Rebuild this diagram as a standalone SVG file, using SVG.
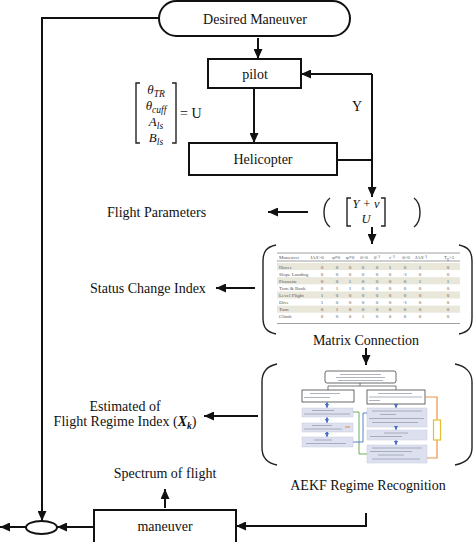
<svg xmlns="http://www.w3.org/2000/svg" width="474" height="542" viewBox="0 0 474 542">
<defs>
<marker id="ah" markerUnits="userSpaceOnUse" markerWidth="10" markerHeight="9" refX="10" refY="4.5" orient="auto">
<path d="M0,0 L10,4.5 L0,9 z" fill="#111"/>
</marker>
<marker id="bh" markerUnits="userSpaceOnUse" markerWidth="5" markerHeight="5" refX="4" refY="2.5" orient="auto">
<path d="M0,0 L4,2.5 L0,5 z" fill="#4a72c4"/>
</marker>
<style>
.t{font-family:"Liberation Serif","Times New Roman",serif;font-size:14px;fill:#111}
.m{font-family:"Liberation Serif","Times New Roman",serif;font-style:italic;fill:#111}
.box{fill:#fff;stroke:#111;stroke-width:2}
.ln{fill:none;stroke:#111;stroke-width:2}
.ar{fill:none;stroke:#111;stroke-width:2;marker-end:url(#ah)}
.br{fill:none;stroke:#222;stroke-width:1.4}
.tb{font-family:"Liberation Serif","Times New Roman",serif;font-size:5px;fill:#555}
.sh{fill:#e9e6da}
.ab{fill:#dde1ef;stroke:#c5cbe0;stroke-width:0.5}
.aw{fill:#fff;stroke:#444;stroke-width:0.8}
.tx{stroke:#9a9fb0;stroke-width:0.8}
</style>
</defs>

<g id="connectors">
<line class="ar" x1="258" y1="38" x2="258" y2="59"/>
<line class="ar" x1="254" y1="88" x2="254" y2="143"/>
<polyline class="ln" points="337,160 372,160"/>
<line class="ar" x1="372" y1="74" x2="372" y2="197"/>
<polyline class="ar" points="372,74 301,74"/>
<polyline class="ar" points="159,18 42,18 42,521"/>
<line class="ar" x1="308" y1="212" x2="268" y2="212"/>
<line class="ar" x1="372" y1="227" x2="372" y2="244"/>
<line class="ar" x1="255" y1="288" x2="216" y2="288"/>
<line class="ar" x1="366" y1="348" x2="366" y2="365"/>
<line class="ar" x1="258" y1="416" x2="204" y2="416"/>
<line class="ar" x1="165" y1="508" x2="165" y2="489"/>
<polyline class="ar" points="366,513 366,526 236,526"/>
<line class="ar" x1="94" y1="527" x2="57" y2="527"/>
<line class="ar" x1="26" y1="527" x2="0" y2="527"/>
</g>

<g id="desired-maneuver">
<rect class="box" x="159" y="1" width="191" height="35" rx="17.5"/>
<text class="t" x="255" y="24" text-anchor="middle">Desired Maneuver</text>
</g>

<g id="pilot">
<rect class="box" x="208" y="59" width="93" height="29"/>
<text class="t" x="255" y="79" text-anchor="middle">pilot</text>
</g>

<g id="helicopter">
<rect class="box" x="189" y="143" width="148" height="32"/>
<text class="t" x="263" y="164" text-anchor="middle">Helicopter</text>
</g>

<g id="control-vector">
<path class="br" d="M140,83 H136 V143 H140"/>
<path class="br" d="M172,83 H176 V143 H172"/>
<text class="m" font-size="13" x="156" y="94" text-anchor="middle">θ<tspan font-size="9.5" dy="3">TR</tspan></text>
<text class="m" font-size="13" x="156" y="110" text-anchor="middle">θ<tspan font-size="9.5" dy="3">cuff</tspan></text>
<text class="m" font-size="13" x="156" y="126" text-anchor="middle">A<tspan font-size="9.5" dy="3">ls</tspan></text>
<text class="m" font-size="13" x="156" y="142" text-anchor="middle">B<tspan font-size="9.5" dy="3">ls</tspan></text>
<text class="t" x="180" y="118">= U</text>
</g>

<g id="y-label">
<text class="t" x="357" y="111" text-anchor="middle">Y</text>
</g>

<g id="measurement">
<path class="br" d="M330,198 C322,204 322,221 330,227"/>
<path class="br" d="M414,198 C422,204 422,221 414,227"/>
<path class="br" d="M351,198 H347 V226 H351"/>
<path class="br" d="M381,198 H385 V226 H381"/>
<text class="m" font-size="12.5" x="366" y="208" text-anchor="middle">Y + v</text>
<text class="m" font-size="12.5" x="366" y="223" text-anchor="middle">U</text>
</g>

<g id="flight-parameters">
<text class="t" x="107" y="217">Flight Parameters</text>
</g>

<g id="status-change-index">
<text class="t" x="90" y="293">Status Change Index</text>
</g>

<g id="matrix-connection">
<path class="br" d="M276,245 C267,247 263,251 263,261 V318 C263,328 267,332 276,334"/>
<path class="br" d="M459,245 C468,247 472,251 472,261 V318 C472,328 468,332 459,334"/>
<line x1="277" y1="253" x2="460" y2="253" stroke="#888" stroke-width="0.8"/>
<line x1="277" y1="261" x2="460" y2="261" stroke="#888" stroke-width="0.8"/>
<line x1="277" y1="323.5" x2="460" y2="323.5" stroke="#888" stroke-width="0.8"/>
<rect class="sh" x="277" y="263" width="183" height="7.1"/>
<rect class="sh" x="277" y="277.2" width="183" height="7.1"/>
<rect class="sh" x="277" y="291.4" width="183" height="7.1"/>
<rect class="sh" x="277" y="305.6" width="183" height="7.1"/>
<g class="tb">
<text x="279" y="258.5">Maneuver</text>
<text x="317" y="258.5" text-anchor="middle">JAS&gt;0</text>
<text x="336" y="258.5" text-anchor="middle">φ≠0</text>
<text x="350" y="258.5" text-anchor="middle">ψ≠0</text>
<text x="364" y="258.5" text-anchor="middle">θ&gt;0</text>
<text x="377" y="258.5" text-anchor="middle">θ⁻¹</text>
<text x="392" y="258.5" text-anchor="middle">ν⁻¹</text>
<text x="406" y="258.5" text-anchor="middle">θ&lt;0</text>
<text x="421" y="258.5" text-anchor="middle">JAS⁻¹</text>
<text x="449" y="258.5" text-anchor="middle">T<tspan font-size="3.5" dy="1">g</tspan><tspan dy="-1">&gt;3</tspan></text>
</g>
<g class="tb">
<text x="279" y="268.5">Hover</text>
<text x="279" y="275.6">Slope Landing</text>
<text x="279" y="282.7">Pirouette</text>
<text x="279" y="289.8">Turn &amp; Bank</text>
<text x="279" y="296.9">Level Flight</text>
<text x="279" y="304">Dive</text>
<text x="279" y="311.1">Turn</text>
<text x="279" y="318.2">Climb</text>
</g>
<g class="tb" text-anchor="middle">
<text y="268.5"><tspan x="322">0</tspan><tspan x="337">0</tspan><tspan x="350">0</tspan><tspan x="363">0</tspan><tspan x="377">0</tspan><tspan x="390">1</tspan><tspan x="405">0</tspan><tspan x="420">1</tspan><tspan x="448">0</tspan></text>
<text y="275.6"><tspan x="322">0</tspan><tspan x="337">0</tspan><tspan x="350">0</tspan><tspan x="363">0</tspan><tspan x="377">0</tspan><tspan x="390">0</tspan><tspan x="405">-1</tspan><tspan x="420">0</tspan><tspan x="448">0</tspan></text>
<text y="282.7"><tspan x="322">0</tspan><tspan x="337">0</tspan><tspan x="350">1</tspan><tspan x="363">0</tspan><tspan x="377">0</tspan><tspan x="390">0</tspan><tspan x="405">0</tspan><tspan x="420">1</tspan><tspan x="448">1</tspan></text>
<text y="289.8"><tspan x="322">0</tspan><tspan x="337">1</tspan><tspan x="350">1</tspan><tspan x="363">0</tspan><tspan x="377">0</tspan><tspan x="390">0</tspan><tspan x="405">0</tspan><tspan x="420">0</tspan><tspan x="448">0</tspan></text>
<text y="296.9"><tspan x="322">1</tspan><tspan x="337">0</tspan><tspan x="350">0</tspan><tspan x="363">0</tspan><tspan x="377">0</tspan><tspan x="390">0</tspan><tspan x="405">0</tspan><tspan x="420">0</tspan><tspan x="448">0</tspan></text>
<text y="304"><tspan x="322">1</tspan><tspan x="337">0</tspan><tspan x="350">0</tspan><tspan x="363">0</tspan><tspan x="377">0</tspan><tspan x="390">0</tspan><tspan x="405">-1</tspan><tspan x="420">0</tspan><tspan x="448">0</tspan></text>
<text y="311.1"><tspan x="322">0</tspan><tspan x="337">1</tspan><tspan x="350">0</tspan><tspan x="363">0</tspan><tspan x="377">0</tspan><tspan x="390">0</tspan><tspan x="405">0</tspan><tspan x="420">0</tspan><tspan x="448">0</tspan></text>
<text y="318.2"><tspan x="322">0</tspan><tspan x="337">0</tspan><tspan x="350">0</tspan><tspan x="363">1</tspan><tspan x="377">0</tspan><tspan x="390">0</tspan><tspan x="405">0</tspan><tspan x="420">0</tspan><tspan x="448">0</tspan></text>
</g>
<text class="t" x="366" y="345" text-anchor="middle">Matrix Connection</text>
</g>

<g id="estimated-index">
<text class="t" x="125" y="411" text-anchor="middle">Estimated of</text>
<text class="t" x="125" y="426" text-anchor="middle">Flight Regime Index (<tspan font-weight="bold" font-style="italic">X<tspan font-size="9.5" dy="3">k</tspan></tspan><tspan dy="-3">)</tspan></text>
</g>

<g id="aekf">
<path class="br" d="M277,364 C267,366 262,372 262,382 V448 C262,458 267,463 277,465"/>
<path class="br" d="M455,364 C465,366 472,372 472,382 V448 C472,458 465,463 455,465"/>
<rect class="aw" x="325" y="371" width="71" height="12" rx="2"/>
<line class="tx" x1="340" y1="374.5" x2="381" y2="374.5"/>
<line class="tx" x1="336" y1="377.5" x2="385" y2="377.5"/>
<line class="tx" x1="338" y1="380.5" x2="383" y2="380.5"/>
<polyline points="360,383 360,386 328,386 328,390" fill="none" stroke="#444" stroke-width="0.7"/>
<polyline points="360,386 396,386 396,390" fill="none" stroke="#444" stroke-width="0.7"/>
<rect class="aw" x="302" y="390" width="52" height="12"/>
<line class="tx" x1="310" y1="393.5" x2="340" y2="393.5"/>
<line class="tx" x1="304" y1="397.5" x2="330" y2="397.5"/>
<rect class="aw" x="367" y="390" width="58" height="14"/>
<line class="tx" x1="378" y1="393.5" x2="412" y2="393.5"/>
<line class="tx" x1="369" y1="397" x2="422" y2="397"/>
<line class="tx" x1="369" y1="400.5" x2="380" y2="400.5"/>
<rect class="ab" x="302" y="408" width="51" height="9"/>
<line class="tx" x1="312" y1="410.5" x2="334" y2="410.5"/>
<line class="tx" x1="304" y1="414" x2="350" y2="414"/>
<rect class="ab" x="302" y="423" width="51" height="9"/>
<line class="tx" x1="312" y1="425.5" x2="332" y2="425.5"/>
<line class="tx" x1="304" y1="429" x2="342" y2="429"/>
<rect class="ab" x="302" y="437" width="51" height="10"/>
<line class="tx" x1="314" y1="440" x2="332" y2="440"/>
<line class="tx" x1="306" y1="443.5" x2="346" y2="443.5"/>
<rect class="ab" x="367" y="408" width="60" height="19"/>
<line class="tx" x1="372" y1="411" x2="422" y2="411"/>
<line class="tx" x1="380" y1="414.5" x2="396" y2="414.5"/>
<line class="tx" x1="369" y1="418.5" x2="424" y2="418.5"/>
<line class="tx" x1="372" y1="422.5" x2="418" y2="422.5"/>
<rect class="ab" x="367" y="430" width="60" height="10"/>
<line class="tx" x1="384" y1="433" x2="408" y2="433"/>
<line class="tx" x1="370" y1="436.5" x2="402" y2="436.5"/>
<rect class="ab" x="367" y="445" width="60" height="18"/>
<line class="tx" x1="372" y1="448" x2="422" y2="448"/>
<line class="tx" x1="370" y1="451.5" x2="412" y2="451.5"/>
<line class="tx" x1="378" y1="455" x2="404" y2="455"/>
<line class="tx" x1="372" y1="459" x2="420" y2="459"/>
<line x1="327" y1="402.5" x2="327" y2="407.5" stroke="#4a72c4" stroke-width="2" marker-end="url(#bh)"/>
<line x1="327" y1="417.5" x2="327" y2="422.5" stroke="#4a72c4" stroke-width="2" marker-end="url(#bh)"/>
<line x1="327" y1="432" x2="327" y2="436.5" stroke="#4a72c4" stroke-width="2" marker-end="url(#bh)"/>
<line x1="396" y1="404.5" x2="396" y2="407.5" stroke="#4a72c4" stroke-width="2" marker-end="url(#bh)"/>
<line x1="396" y1="427.5" x2="396" y2="429.5" stroke="#4a72c4" stroke-width="2" marker-end="url(#bh)"/>
<line x1="396" y1="440.5" x2="396" y2="444.5" stroke="#4a72c4" stroke-width="2" marker-end="url(#bh)"/>
<polyline points="353,412 359,412 359,454 367,454" fill="none" stroke="#5aa64a" stroke-width="0.9"/>
<polyline points="353,442 363,442 363,413 367,413" fill="none" stroke="#4a72c4" stroke-width="0.9"/>
<line x1="345" y1="427" x2="350" y2="427" stroke="#e8924a" stroke-width="1.2"/>
<polyline points="425,397 437,397 437,458 427,458" fill="none" stroke="#e8924a" stroke-width="1.2"/>
<rect x="433.5" y="420" width="7" height="20" fill="#fff" stroke="#e0c030" stroke-width="1.2"/>
<text class="t" x="368" y="490" text-anchor="middle">AEKF Regime Recognition</text>
</g>

<g id="spectrum">
<text class="t" x="165" y="478" text-anchor="middle">Spectrum of flight</text>
</g>

<g id="maneuver">
<rect class="box" x="94" y="510" width="142" height="40"/>
<text class="t" x="165" y="531" text-anchor="middle">maneuver</text>
</g>

<g id="sum">
<ellipse cx="41.5" cy="527.5" rx="15.5" ry="6.5" fill="#fff" stroke="#111" stroke-width="2"/>
</g>
</svg>
